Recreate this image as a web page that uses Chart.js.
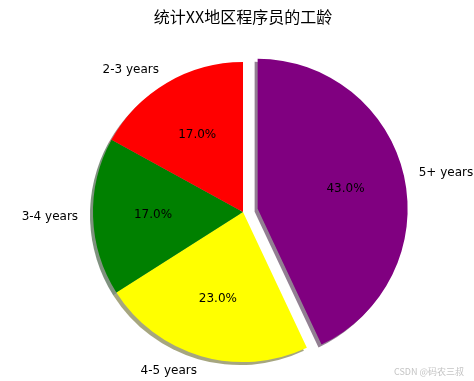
<!DOCTYPE html>
<html>
<head>
<meta charset="utf-8">
<script src="https://cdn.jsdelivr.net/npm/chart.js@4/dist/chart.umd.min.js"></script>
<style>
  html, body { margin: 0; padding: 0; background: #fff; }
  #wrap { width: 474px; height: 381px; position: relative; }
</style>
</head>
<body>
<div id="wrap"><canvas id="pie"></canvas></div>
<script>
/* data, in the order the original plot lists it (counter-clockwise from the top) */
const labels = ['2-3 years', '3-4 years', '4-5 years', '5+ years'];
const values = [17, 17, 23, 43];
const colors = ['#ff0000', '#008000', '#ffff00', '#800080'];
const explode = [0, 0, 0, 0.1];
const titleText = '统计XX地区程序员的工龄';

/* Chart.js goes clockwise, so reverse to get the same layout */
const cjLabels = labels.slice().reverse();
const cjValues = values.slice().reverse();
const cjColors = colors.slice().reverse();
const cjExplode = explode.slice().reverse();
const total = values.reduce((a, b) => a + b, 0);

function shadowOf(hex) {
  const n = parseInt(hex.slice(1), 16);
  const r = (n >> 16) & 255, g = (n >> 8) & 255, b = n & 255;
  return 'rgba(' + Math.round(r * 0.3) + ',' + Math.round(g * 0.3) + ',' + Math.round(b * 0.3) + ',0.5)';
}

/* ── explode + shadow + labels, matplotlib style ── */
const pieExtras = {
  id: 'pieExtras',
  afterDatasetUpdate(chart, args) {
    const meta = chart.getDatasetMeta(args.index);
    meta.data.forEach((arc, i) => {
      const ex = cjExplode[i];
      if (!ex) return;
      const mid = (arc.startAngle + arc.endAngle) / 2;
      arc.x += Math.cos(mid) * ex * arc.outerRadius;
      arc.y += Math.sin(mid) * ex * arc.outerRadius;
    });
  },
  beforeDatasetsDraw(chart) {
    const ctx = chart.ctx;
    const meta = chart.getDatasetMeta(0);
    const off = meta.data.length ? meta.data[0].outerRadius * 0.02 : 0;
    ctx.save();
    meta.data.forEach((arc, i) => {
      ctx.beginPath();
      ctx.moveTo(arc.x - off, arc.y + off);
      ctx.arc(arc.x - off, arc.y + off, arc.outerRadius, arc.startAngle, arc.endAngle);
      ctx.closePath();
      ctx.fillStyle = shadowOf(cjColors[i]);
      ctx.fill();
    });
    ctx.restore();
  },
  afterDatasetsDraw(chart) {
    const ctx = chart.ctx;
    const meta = chart.getDatasetMeta(0);
    ctx.save();
    ctx.fillStyle = '#000';
    ctx.font = '12px "DejaVu Sans"';
    ctx.textBaseline = 'middle';
    meta.data.forEach((arc, i) => {
      const mid = (arc.startAngle + arc.endAngle) / 2;
      const r = arc.outerRadius;
      const c = Math.cos(mid), s = Math.sin(mid);
      ctx.textAlign = c < 0 ? 'right' : 'left';
      ctx.fillText(cjLabels[i], arc.x + c * r * 1.1, arc.y + s * r * 1.1);
      ctx.textAlign = 'center';
      ctx.fillText((cjValues[i] / total * 100).toFixed(1) + '%', arc.x + c * r * 0.6, arc.y + s * r * 0.6);
    });
    // watermark
    ctx.fillStyle = '#c4c4c4';
    ctx.font = '9px "Noto Sans CJK SC"';
    ctx.textAlign = 'right';
    ctx.fillText('CSDN @码农三叔', chart.width - 10, chart.height - 9);
    ctx.restore();
  }
};

new Chart(document.getElementById('pie'), {
  type: 'pie',
  data: {
    labels: cjLabels,
    datasets: [{
      data: cjValues,
      backgroundColor: cjColors,
      borderWidth: 0,
      hoverOffset: 0
    }]
  },
  options: {
    responsive: true,
    maintainAspectRatio: false,
    animation: false,
    radius: 150,
    rotation: 0,
    layout: { padding: { left: 12, right: 0, top: 0, bottom: 0 } },
    plugins: {
      legend: { display: false },
      tooltip: { enabled: false },
      title: {
        display: true,
        text: titleText,
        color: '#000',
        font: { family: '"Noto Sans CJK SC"', size: 16, weight: 'normal' },
        padding: { top: 7, bottom: 17 }
      }
    }
  },
  plugins: [pieExtras]
});
</script>
</body>
</html>
